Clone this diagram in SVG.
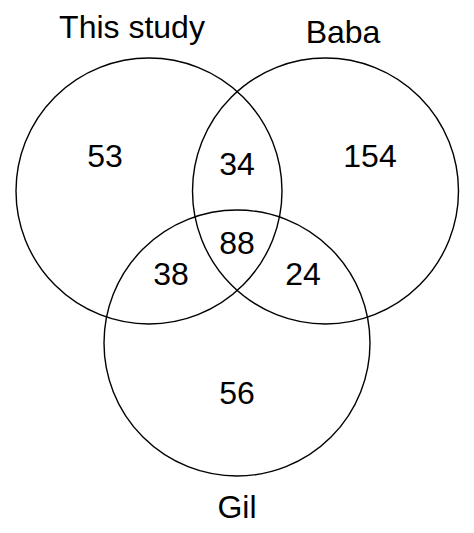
<svg xmlns="http://www.w3.org/2000/svg" width="474" height="533" viewBox="0 0 474 533">
<style>
.c{fill:none;stroke:#000;stroke-width:1.4}
text{font-family:"Liberation Sans",Arial,sans-serif;font-size:32px;fill:#000;text-anchor:middle}
</style>
<rect width="474" height="533" fill="#fff"/>
<g id="this-study"><circle class="c" cx="149" cy="191" r="133"/><text x="132" y="38">This study</text></g>
<g id="baba"><circle class="c" cx="325.5" cy="191" r="133"/><text x="343" y="43">Baba</text></g>
<g id="gil"><circle class="c" cx="237" cy="343" r="133"/><text x="237" y="518">Gil</text></g>
<g id="counts">
<text x="105" y="167">53</text>
<text x="237" y="175">34</text>
<text x="370" y="167">154</text>
<text x="237" y="254">88</text>
<text x="171" y="285">38</text>
<text x="303" y="285">24</text>
<text x="237" y="404">56</text>
</g>
<g id="connectors"></g>
</svg>
